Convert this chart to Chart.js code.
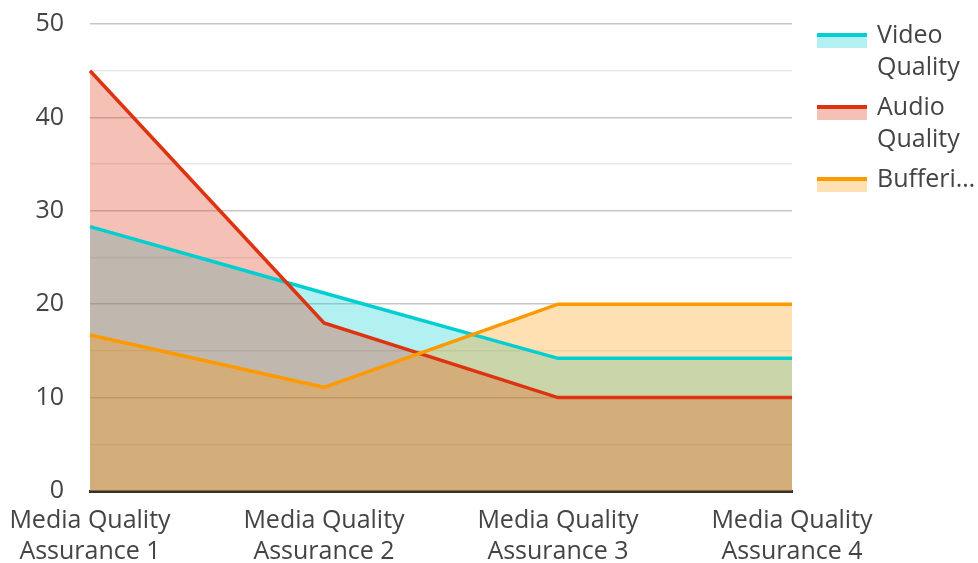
<!DOCTYPE html>
<html>
<head>
<meta charset="utf-8">
<script src="https://cdn.jsdelivr.net/npm/chart.js@4/dist/chart.umd.min.js"></script>
<style>
  html, body { margin: 0; padding: 0; background: #fff; }
  #wrap { width: 978px; height: 563px; }
</style>
</head>
<body>
<div id="wrap"><canvas id="chart" width="978" height="563"></canvas></div>
<script>
// Kategorien (x-Achse)
const categories = [
    ['Media Quality', 'Assurance 1'],
    ['Media Quality', 'Assurance 2'],
    ['Media Quality', 'Assurance 3'],
    ['Media Quality', 'Assurance 4']
];

// Serienwerte
const videoQuality = [28.3, 21.2, 14.2, 14.2];
const audioQuality = [45, 18, 10, 10];
const buffering = [16.7, 11.1, 20, 20];

const seriesNames = ['Video Quality', 'Audio Quality', 'Buffering'];
const legendLines = [['Video', 'Quality'], ['Audio', 'Quality'], ['Buffering']];

const yMin = 0;
const yMax = 50;
const yStep = 5;

const lineColors = ['rgb(0, 206, 209)', 'rgb(221, 51, 17)', 'rgb(255, 153, 0)'];
const fillColors = ['rgba(0, 206, 209, 0.3)', 'rgba(221, 51, 17, 0.3)', 'rgba(255, 153, 0, 0.3)'];
const drawOrder = [3, 2, 1]; // Cyan unten, Orange oben

const fontFamily = '"Open Sans", "Noto Sans", sans-serif';
const fontSize = 25;
const textColor = '#444';

// Eigene Legende rechts (Swatch mit dicker Oberkante + umbrochener Text)
const sideLegend = {
    id: 'sideLegend',
    afterDraw(chart) {
        const ctx = chart.ctx;
        const x0 = 817;
        let y = 33;
        const maxTextWidth = 978 - 877 - 2;
        ctx.save();
        ctx.font = fontSize + 'px ' + fontFamily;
        ctx.textBaseline = 'middle';
        ctx.textAlign = 'left';
        chart.data.datasets.forEach((ds, i) => {
            ctx.fillStyle = fillColors[i];
            ctx.fillRect(x0, y, 50, 15);
            ctx.fillStyle = lineColors[i];
            ctx.fillRect(x0, y, 50, 4);
            ctx.fillStyle = textColor;
            legendLines[i].forEach((line, j) => {
                let txt = line;
                if (ctx.measureText(txt).width > maxTextWidth) {
                    while (txt.length > 1 && ctx.measureText(txt + '…').width > maxTextWidth) {
                        txt = txt.slice(0, -1);
                    }
                    txt = txt + '…';
                }
                ctx.fillText(txt, 877, y + 3 + j * 32);
            });
            y += 72;
        });
        ctx.restore();
    }
};

const datasets = [videoQuality, audioQuality, buffering].map((values, i) => ({
    label: seriesNames[i],
    data: values,
    order: drawOrder[i],
    borderColor: lineColors[i],
    backgroundColor: fillColors[i],
    borderWidth: 3.5,
    fill: 'origin',
    tension: 0,
    pointRadius: 0,
    pointHoverRadius: 0
}));

new Chart(document.getElementById('chart').getContext('2d'), {
    type: 'line',
    data: { labels: categories, datasets: datasets },
    options: {
        responsive: false,
        animation: false,
        layout: { padding: { top: 24, right: 186, left: 0, bottom: 0 } },
        plugins: {
            legend: { display: false },
            tooltip: { enabled: false },
            filler: { drawTime: 'beforeDatasetsDraw' }
        },
        scales: {
            x: {
                offset: false,
                grid: { display: false, drawTicks: false },
                border: { display: true, color: '#333', width: 3 },
                ticks: {
                    color: textColor,
                    font: { family: fontFamily, size: fontSize, lineHeight: 1.25 },
                    padding: 14,
                    maxRotation: 0,
                    autoSkip: false
                },
                afterFit(scale) {
                    scale.height = 72;
                    scale.paddingLeft = 0;
                    scale.paddingRight = 0;
                }
            },
            y: {
                min: yMin,
                max: yMax,
                border: { display: false },
                grid: {
                    drawTicks: false,
                    color: ctx => (ctx.tick && ctx.tick.value % 10 === 0) ? 'rgba(0,0,0,0.22)' : 'rgba(0,0,0,0.09)',
                    lineWidth: 1.5
                },
                ticks: {
                    stepSize: yStep,
                    color: textColor,
                    font: { family: fontFamily, size: fontSize },
                    padding: 26,
                    callback: v => (v % 10 === 0 ? v : '')
                },
                afterFit(scale) {
                    scale.width = 90;
                    scale.paddingTop = 0;
                    scale.paddingBottom = 0;
                }
            }
        }
    },
    plugins: [sideLegend]
});
</script>
</body>
</html>
